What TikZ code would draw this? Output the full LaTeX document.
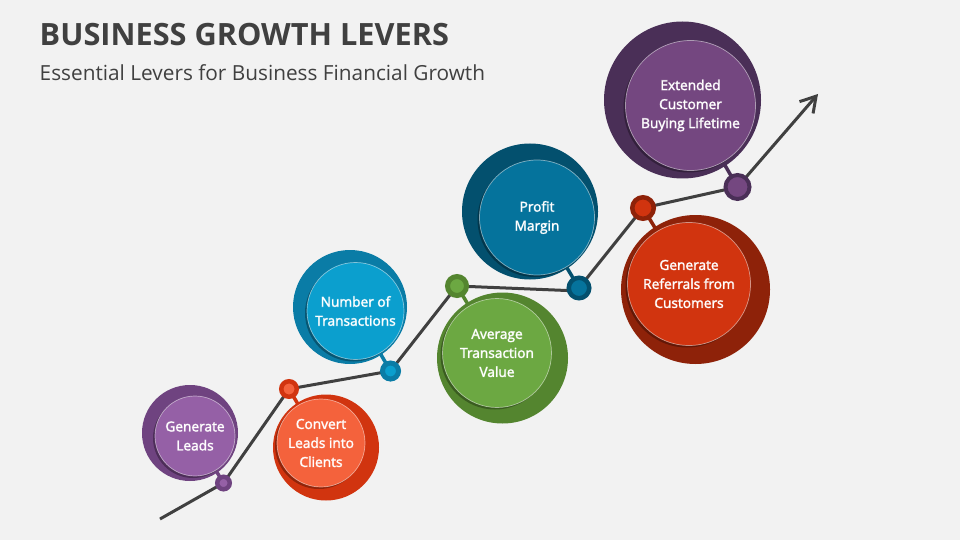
\documentclass[tikz,border=0pt]{standalone}
\usepackage{fontspec}
\setmainfont{Open Sans}
\newfontfamily\leverfont[FakeBold=5]{Open Sans}
\usepackage{tikz}
\usetikzlibrary{arrows.meta}
\usetikzlibrary{shadows}
\usetikzlibrary{backgrounds}
\definecolor{pageGray}{HTML}{F2F2F2}
\definecolor{lineGray}{HTML}{404040}
\definecolor{titleGray}{HTML}{404040}
\definecolor{plumDark}{HTML}{6F4380}
\definecolor{plumLight}{HTML}{9560A6}
\definecolor{redDark}{HTML}{D1340F}
\definecolor{redLight}{HTML}{F4623C}
\definecolor{skyDark}{HTML}{0A7CA6}
\definecolor{skyLight}{HTML}{0B9FCE}
\definecolor{greenDark}{HTML}{54852F}
\definecolor{greenLight}{HTML}{6CA842}
\definecolor{tealDark}{HTML}{03506E}
\definecolor{tealLight}{HTML}{05739C}
\definecolor{brickDark}{HTML}{8E2209}
\definecolor{brickLight}{HTML}{D1340F}
\definecolor{grapeDark}{HTML}{4A2F57}
\definecolor{grapeLight}{HTML}{744780}
\tikzset{
    backCircle/.style={circle, inner sep=0pt, outer sep=0pt, minimum size=#1},
    textCircle/.style={circle, inner sep=0pt, outer sep=0pt, minimum size=#1, draw=white, draw opacity=0.5, line width=0.7pt, text=white, align=center,
        font=\leverfont\fontsize{13.7}{19}\selectfont, drop shadow={shadow xshift=-2pt, shadow yshift=-2pt, opacity=0.3, fill=black}},
    dotCircle/.style={circle, inner sep=0pt, minimum size=#1, drop shadow={shadow xshift=0.5pt, shadow yshift=-1pt, opacity=0.25, fill=black}},
    growthLine/.style={draw=lineGray, line width=3pt},
    stemLine/.style={line width=3.5pt}
}
\begin{document}
\begin{tikzpicture}[x=1pt,y=-1pt]
    \useasboundingbox (0,0) rectangle (960,540);
    % titles
    \node[anchor=base west, inner sep=0pt, text=titleGray, font=\fontsize{30.7}{33}\selectfont\bfseries] (title) at (39.5,45.7) {BUSINESS GROWTH LEVERS};
    \node[anchor=base west, inner sep=0pt, text=titleGray, font=\fontsize{20.8}{21}\selectfont] (subtitle) at (39.5,80.7) {Essential Levers for Business Financial Growth};
    % free ends
    \coordinate (lineStart) at (160,519);
    \coordinate (lineEnd) at (818,94);
    % dots on the line
    \node[dotCircle=12.5pt, draw=plumDark, fill=plumLight, line width=4.5pt] (dot_1) at (223.5,483) {};
    \node[dotCircle=15.5pt, draw=redDark, fill=redLight, line width=4.5pt] (dot_2) at (289,389) {};
    \node[dotCircle=16pt, draw=skyDark, fill=skyLight, line width=5pt] (dot_3) at (390.5,371) {};
    \node[dotCircle=19pt, draw=greenDark, fill=greenLight, line width=5pt] (dot_4) at (457,286) {};
    \node[dotCircle=20.5pt, draw=tealDark, fill=tealLight, line width=4.5pt] (dot_5) at (579,288) {};
    \node[dotCircle=21.5pt, draw=brickDark, fill=brickLight, line width=4.5pt] (dot_6) at (643,208) {};
    \node[dotCircle=24pt, draw=grapeDark, fill=grapeLight, line width=4pt] (dot_7) at (737.5,187) {};
    % back circles
    \node[backCircle=96pt, fill=plumDark] (back_1) at (190,433) {};
    \node[backCircle=106pt, fill=redDark] (back_2) at (326,447.5) {};
    \node[backCircle=114pt, fill=skyDark] (back_3) at (350,307) {};
    \node[backCircle=131pt, fill=greenDark] (back_4) at (502.5,358) {};
    \node[backCircle=136pt, fill=tealDark] (back_5) at (530,211.5) {};
    \node[backCircle=149pt, fill=brickDark] (back_6) at (695.5,289.5) {};
    \node[backCircle=157pt, fill=grapeDark] (back_7) at (682.5,100) {};
    % text circles
    \node[textCircle=80pt, fill=plumLight] (lever_1) at (195,436) {Generate\\Leads};
    \node[textCircle=88pt, fill=redLight] (lever_2) at (321,443) {Convert\\Leads into\\Clients};
    \node[textCircle=97pt, fill=skyLight] (lever_3) at (355.5,311) {Number of\\Transactions};
    \node[textCircle=109pt, fill=greenLight] (lever_4) at (497,353) {Average\\Transaction\\Value};
    \node[textCircle=115pt, fill=tealLight] (lever_5) at (537,217.5) {Profit\\Margin};
    \node[textCircle=123pt, fill=brickLight] (lever_6) at (689,284) {Generate\\Referrals from\\Customers};
    \node[textCircle=130pt, fill=grapeLight] (lever_7) at (690.5,105.5) {Extended\\Customer\\Buying Lifetime};
    %
    \begin{scope}[on background layer]
        \fill[pageGray] (0,0) rectangle (960,540);
        \draw[growthLine] (lineStart) -- (dot_1.center) -- (dot_2.center) -- (dot_3.center) -- (dot_4.center) -- ([yshift=-3pt]dot_5.center) -- (dot_5.center) -- (dot_6.center) -- (dot_7.center);
        \draw[growthLine, -{Straight Barb[length=15pt,width=18pt]}] (dot_7.center) -- (lineEnd);
        \draw[stemLine, draw=plumDark] (dot_1.center) -- (lever_1.center);
        \draw[stemLine, draw=redDark] (dot_2.center) -- (lever_2.center);
        \draw[stemLine, draw=skyDark] (dot_3.center) -- (lever_3.center);
        \draw[stemLine, draw=greenDark] (dot_4.center) -- (lever_4.center);
        \draw[stemLine, draw=tealDark] (dot_5.center) -- (lever_5.center);
        \draw[stemLine, draw=brickDark] (dot_6.center) -- (lever_6.center);
        \draw[stemLine, draw=grapeDark] (dot_7.center) -- (lever_7.center);
    \end{scope}
\end{tikzpicture}
\end{document}
